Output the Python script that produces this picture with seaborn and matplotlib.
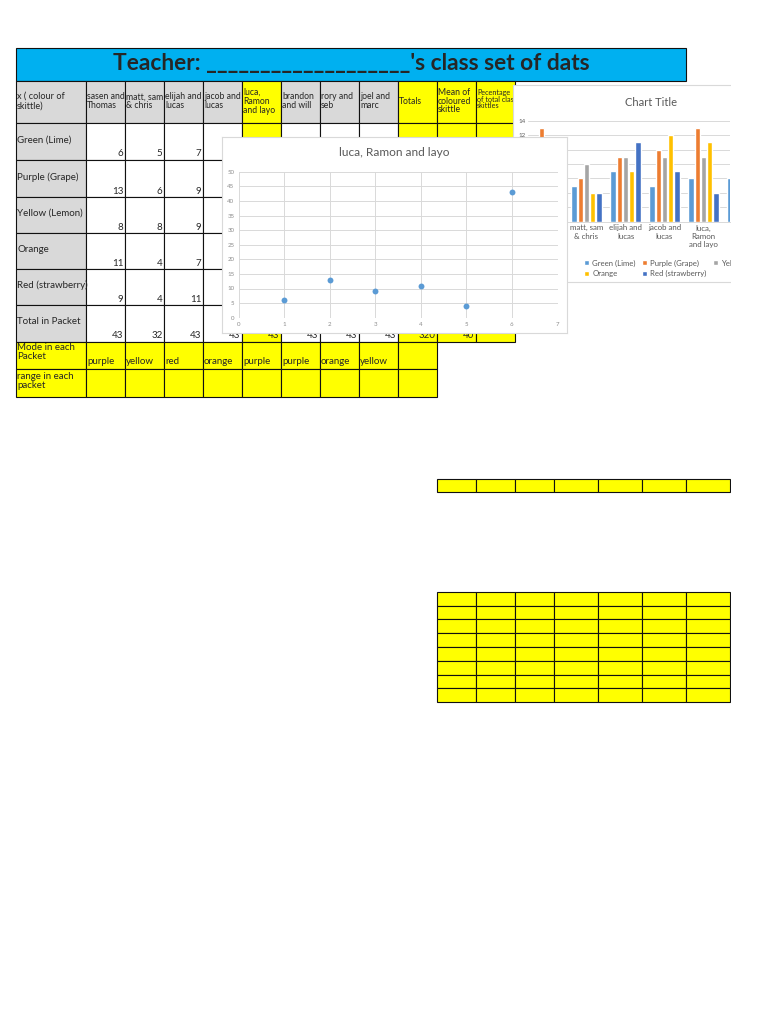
import numpy as np
import pandas as pd
import seaborn as sns
import matplotlib.pyplot as plt
from matplotlib.patches import Rectangle

# values (None = hidden behind the charts)
groups = ["sasen and\nThomas", "matt, sam\n& chris", "elijah and\nlucas", "jacob and\nlucas",
          "luca,\nRamon\nand layo", "brandon\nand will", "rory and\nseb", "joel and\nmarc"]
colours = ["Green (Lime)", "Purple (Grape)", "Yellow (Lemon)", "Orange", "Red (strawberry)"]
green = [6, 5, 7, 5, 6, 6, None, None]
purple = [13, 6, 9, 10, 13, None, None, None]
yellow = [8, 8, 9, 9, 9, None, None, None]
orange = [11, 4, 7, 12, 11, None, None, None]
red = [9, 4, 11, 7, 4, None, None, None]
packet_totals = [43, 32, 43, 43, 43, 43, 43, 43]
class_total = 320
class_mean = 40
modes = ["purple", "yellow", "red", "orange", "purple", "purple", "orange", "yellow"]

title = "Teacher: ___________________'s class set of dats"
first_header = "x ( colour of\nskittle)"
extra_headers = ["Totals", "Mean of\ncoloured\nskittle", "Pecentage\nof total class\nskittles"]
row_labels = colours + ["Total in Packet"]
mode_label = "Mode in each\nPacket"
range_label = "range in each\npacket"
bar_title = "Chart Title"
scatter_group = 4  # luca, Ramon and layo
scatter_title = groups[scatter_group].replace("\n", " ")

counts = [green, purple, yellow, orange, red]
palette = ["#5B9BD5", "#ED7D31", "#A5A5A5", "#FFC000", "#4472C4"]

sns.set_theme(style="white")
plt.rcParams['font.family'] = ['Lato', 'DejaVu Sans']

W, H = 768, 1024
GRAY, YELLOW, CYAN = "#D9D9D9", "#FFFF00", "#00B0F0"
TXT = "#595959"
SC_BOX = (222, 137, 567, 333)   # scatter chart box on the sheet, pixels
BAR_BOX = (513, 85, 790, 282)   # bar chart box, runs past the view edge


def fig_rect(x0, y0, x1, y1):
    return [x0 / W, 1 - y1 / H, (x1 - x0) / W, (y1 - y0) / H]


def under_scatter(x, y):
    return SC_BOX[0] < x - 8 and x < SC_BOX[2] and SC_BOX[1] < y - 8 and y < SC_BOX[3]


fig = plt.figure(figsize=(7.68, 10.24), dpi=100)
ax = fig.add_axes([0, 0, 1, 1])
ax.set_xlim(0, W)
ax.set_ylim(H, 0)
ax.axis('off')


def cell(x0, y0, x1, y1, fc, lw=0.8):
    ax.add_patch(Rectangle((x0, y0), x1 - x0, y1 - y0, facecolor=fc, edgecolor="#111111", lw=lw))


# title bar
cell(16, 48, 686, 80.5, CYAN)
ax.text(351, 63.5, title, ha='center', va='center', fontsize=16.4, fontweight='bold')

# main table grid
cols = [16, 86, 125, 164, 203, 242, 281, 320, 359, 398, 437, 476, 515]
rows = [80.5, 123, 160, 197, 233, 269, 305, 342, 369, 397]
n_groups = len(groups)
for r in range(7):
    for c in range(len(cols) - 1):
        if c == 0:
            fc = GRAY
        elif c == scatter_group + 1 or c > n_groups:
            fc = YELLOW
        else:
            fc = GRAY if r == 0 else "white"
        cell(cols[c], rows[r], cols[c + 1], rows[r + 1], fc)
for r in (7, 8):
    for c in range(n_groups + 2):
        cell(cols[c], rows[r], cols[c + 1], rows[r + 1], YELLOW)

# header texts
hy = (rows[0] + rows[1]) / 2 - 0.5
ax.text(cols[0] + 1, hy, first_header, ha='left', va='center', fontsize=6.6, linespacing=1.1)
for i, g in enumerate(groups):
    ax.text(cols[i + 1] + 1, hy, g, ha='left', va='center', fontsize=6.2, linespacing=1.0)
for j, h in enumerate(extra_headers):
    fs = 5.2 if j == 2 else 6.2
    ax.text(cols[n_groups + 1 + j] + 1, hy - (2 if j == 2 else 0), h, ha='left', va='center',
            fontsize=fs, linespacing=0.95)

# row labels and counts
for r, lab in enumerate(row_labels):
    y0, y1 = rows[r + 1], rows[r + 2]
    ax.text(cols[0] + 1, (y0 + y1) / 2 - 1.5, lab, ha='left', va='center', fontsize=7, linespacing=1.05)
    vals = counts[r] if r < len(counts) else packet_totals
    for i, v in enumerate(vals):
        x, y = cols[i + 2] - 1.5, y1 - 3.5
        if v is not None and not under_scatter(x, y):
            ax.text(x, y, str(v), ha='right', va='baseline', fontsize=7)
ax.text(cols[n_groups + 2] - 1.5, rows[7] - 3.5, str(class_total), ha='right', va='baseline', fontsize=7)
ax.text(cols[n_groups + 3] - 1.5, rows[7] - 3.5, str(class_mean), ha='right', va='baseline', fontsize=7)

ax.text(cols[0] + 1, 352, mode_label, ha='left', va='center', fontsize=7, linespacing=1.05)
ax.text(cols[0] + 1, 381, range_label, ha='left', va='center', fontsize=7, linespacing=1.05)
for i, m in enumerate(modes):
    ax.text(cols[i + 1] + 1, rows[8] - 4.5, m, ha='left', va='baseline', fontsize=7)

# empty yellow tables lower right
low_cols = [437, 476, 515, 554, 598, 642, 686, 730]
for c in range(len(low_cols) - 1):
    cell(low_cols[c], 478.5, low_cols[c + 1], 492, YELLOW)
low_rows = np.linspace(591.7, 702.3, 9)
for r in range(len(low_rows) - 1):
    for c in range(len(low_cols) - 1):
        cell(low_cols[c], low_rows[r], low_cols[c + 1], low_rows[r + 1], YELLOW)


def frame(box, z):
    x0, y0, x1, y1 = box
    f = fig.add_axes(fig_rect(x0, y0, x1, y1), zorder=z)
    f.set_xlim(x0, x1)
    f.set_ylim(y1, y0)
    f.set_xticks([])
    f.set_yticks([])
    f.set_facecolor("white")
    for s in f.spines.values():
        s.set_color(GRAY)
        s.set_linewidth(0.8)
    return f


# clustered bar chart (behind)
bar_frame = frame(BAR_BOX, 1)
bar_frame.text(651, 102, bar_title, ha='center', va='center', fontsize=8, color=TXT)

long_rows = []
for c, vals in zip(colours, counts):
    for g, v in zip(groups, vals):
        if v is not None:
            long_rows.append((g, c, v))
df = pd.DataFrame(long_rows, columns=["group", "colour", "count"])

ax_bar = fig.add_axes(fig_rect(528, 120.7, 730, 221.7), zorder=1.5)
ax_bar.set_facecolor("none")
sns.barplot(data=df, x="group", y="count", hue="colour", order=groups, hue_order=colours,
            palette=palette, width=0.8, gap=0.18, saturation=1, errorbar=None, ax=ax_bar)
ax_bar.set_xlim(-0.5, (730 - 528) / 39 - 0.5)
ax_bar.set_ylim(0, 14)
ax_bar.set_yticks(range(0, 15, 2))
ax_bar.yaxis.grid(True, color=GRAY, lw=0.7)
ax_bar.set_axisbelow(True)
ax_bar.set_xlabel("")
ax_bar.set_ylabel("")
ax_bar.tick_params(axis='x', labelsize=5.7, colors=TXT, length=0, pad=2)
ax_bar.tick_params(axis='y', labelsize=4.4, colors=TXT, length=0, pad=2)
for s in ['top', 'right', 'left']:
    ax_bar.spines[s].set_visible(False)
ax_bar.spines['bottom'].set_color(GRAY)
ax_bar.spines['bottom'].set_linewidth(0.7)

handles, labels = ax_bar.get_legend_handles_labels()
ax_bar.get_legend().remove()
order = [0, 3, 1, 4, 2]  # row-wise like the sheet
ax_bar.legend([handles[i] for i in order], [labels[i] for i in order], loc='upper left',
              bbox_to_anchor=(584 / W, 1 - 259.5 / H), bbox_transform=fig.transFigure, ncol=3,
              frameon=False, fontsize=5.6, handlelength=0.65, handleheight=0.65, handletextpad=0.4,
              columnspacing=0.8, labelspacing=0.45, borderpad=0, borderaxespad=0, labelcolor=TXT)

# scatter chart for one group (in front)
sc_frame = frame(SC_BOX, 2)
sc_frame.text(394, 153, scatter_title, ha='center', va='center', fontsize=8.6, color=TXT)

g_vals = [vals[scatter_group] for vals in counts] + [packet_totals[scatter_group]]
ax_sc = fig.add_axes(fig_rect(238.5, 171.7, 557.5, 317.7), zorder=2.5)
ax_sc.set_facecolor("none")
sns.scatterplot(x=np.arange(1, len(g_vals) + 1), y=g_vals, color=palette[0], s=18,
                linewidth=0, ax=ax_sc)
ax_sc.set_xlim(0, 7)
ax_sc.set_ylim(0, 50)
ax_sc.set_xticks(range(0, 8))
ax_sc.set_yticks(range(0, 51, 5))
ax_sc.grid(True, color=GRAY, lw=0.7)
ax_sc.set_axisbelow(True)
ax_sc.tick_params(labelsize=4.4, colors="#8C8C8C", length=0, pad=3)
for s in ax_sc.spines.values():
    s.set_visible(False)

# the sheet view ends at the right
fig.add_artist(Rectangle((731 / W, 0), 1, 1, transform=fig.transFigure,
                         facecolor='white', edgecolor='none', zorder=10))

fig.savefig("out.png", dpi=100)
